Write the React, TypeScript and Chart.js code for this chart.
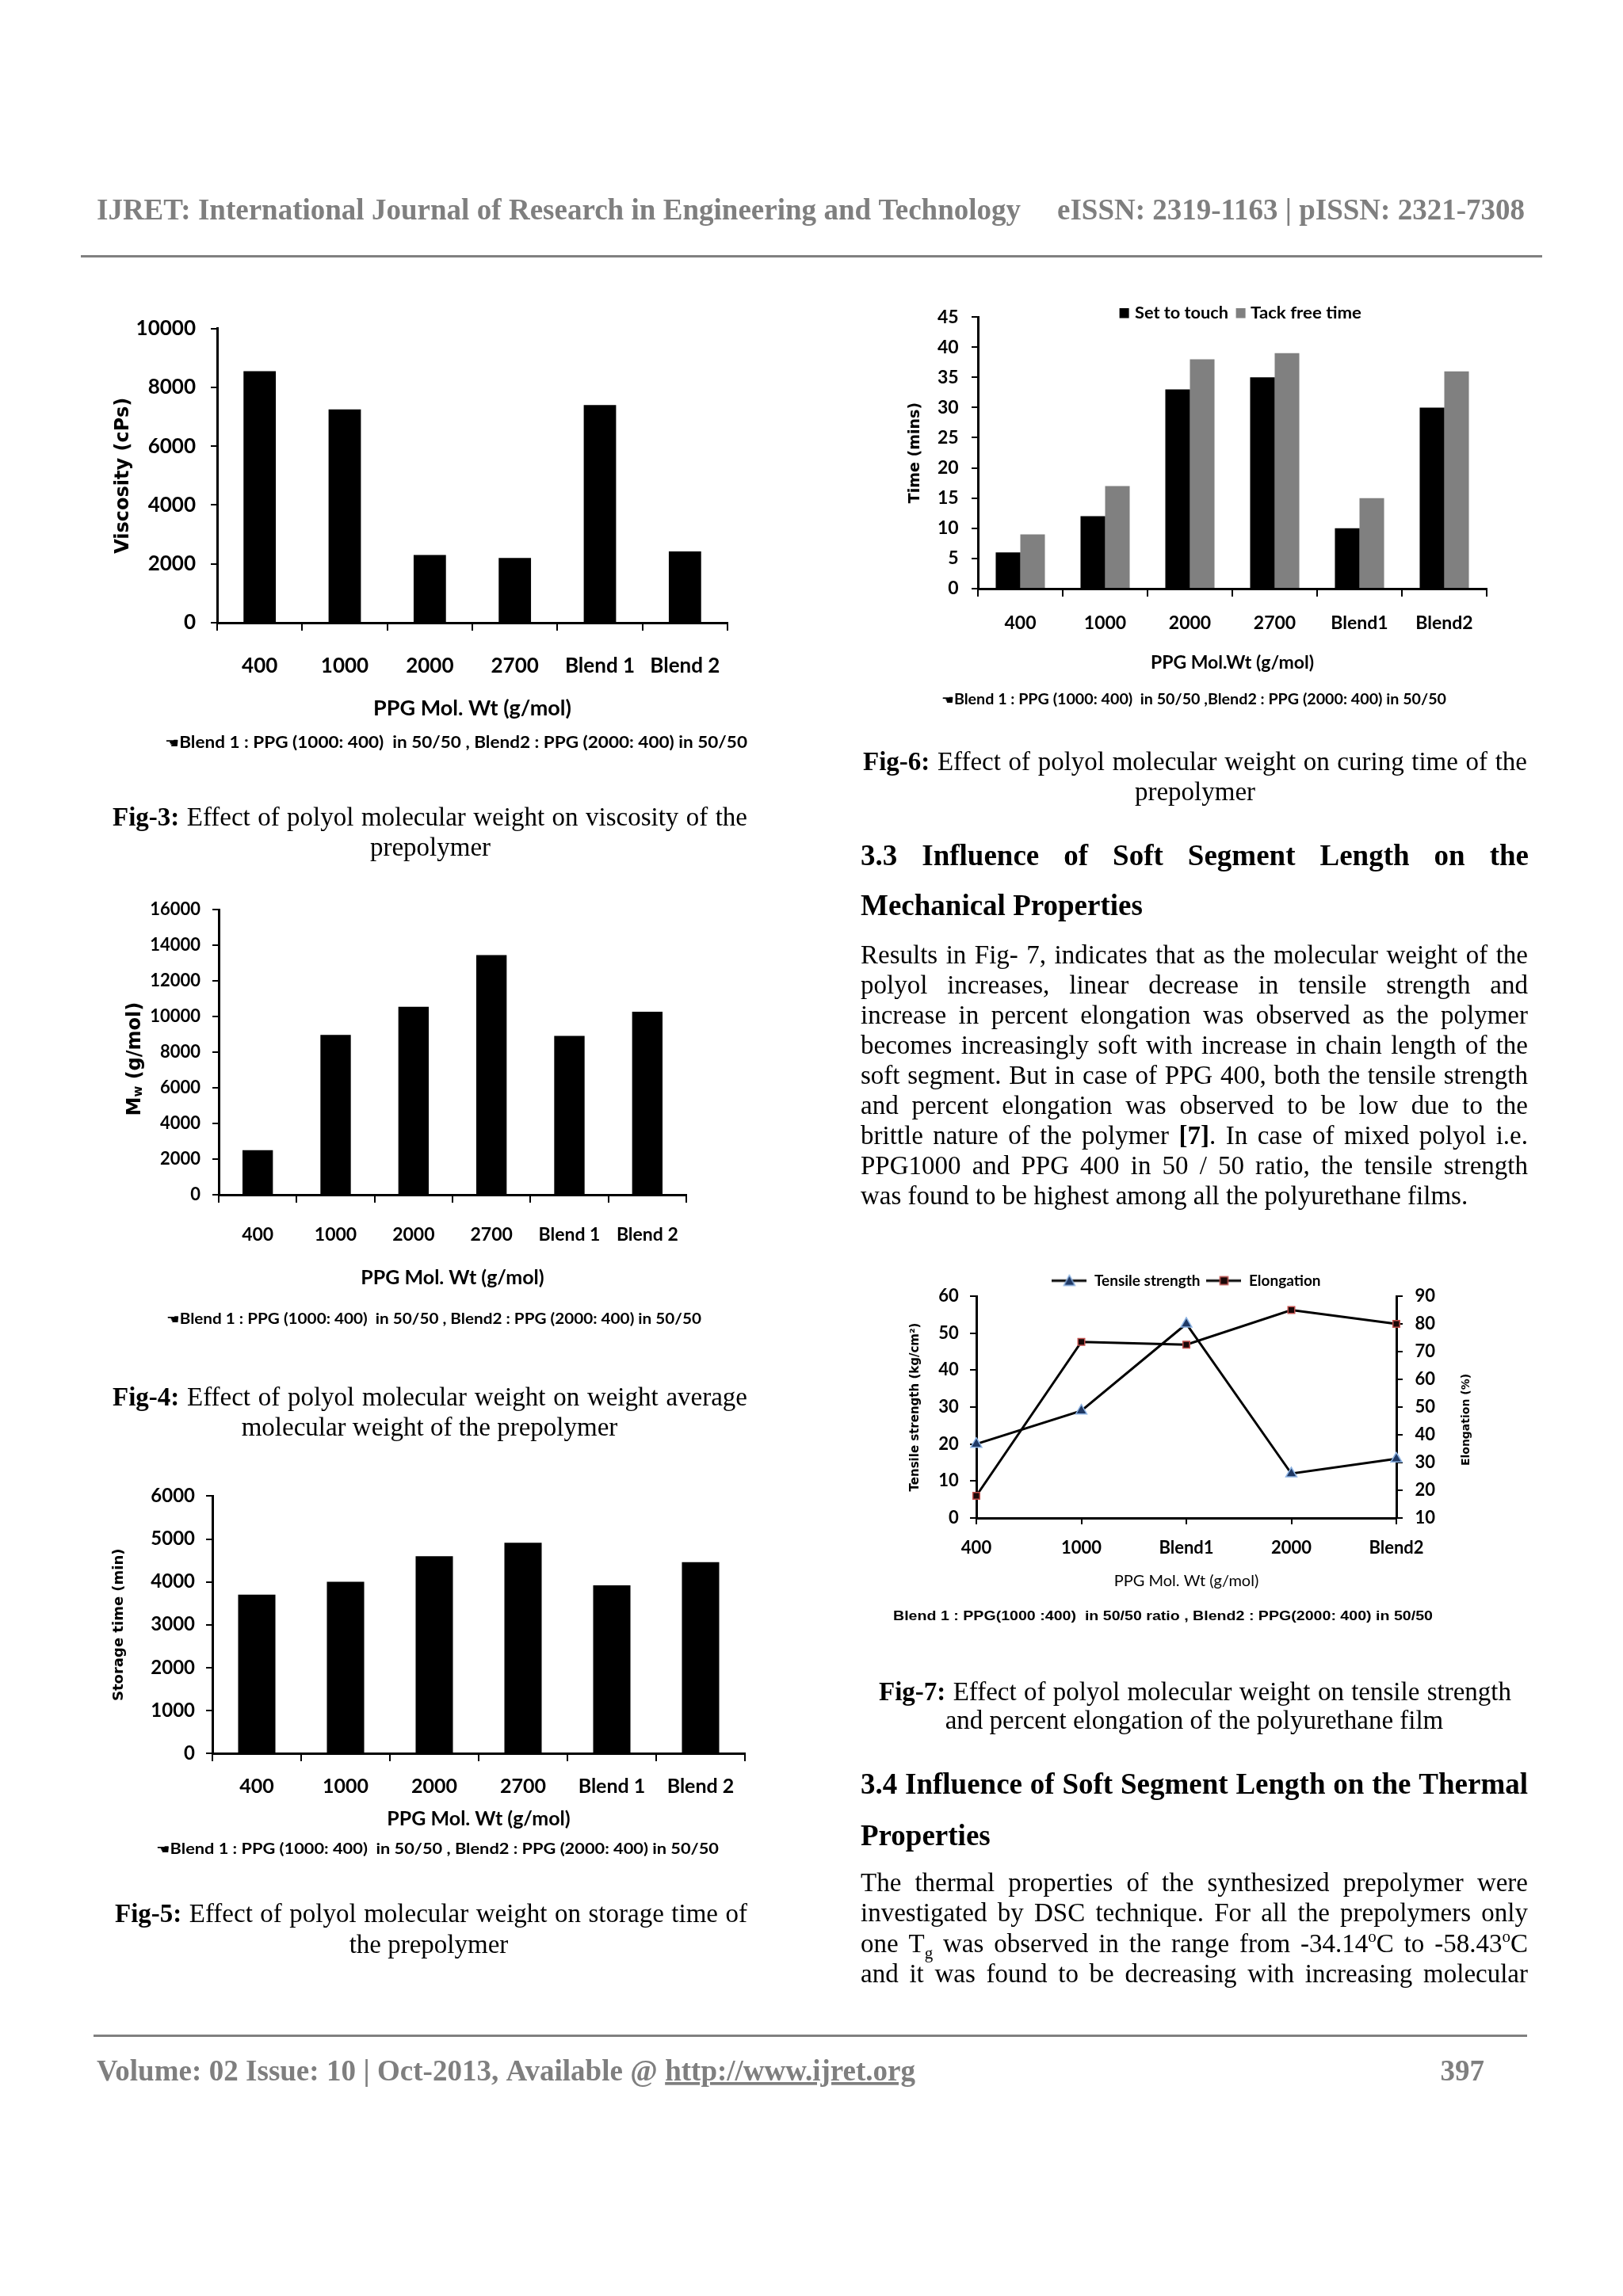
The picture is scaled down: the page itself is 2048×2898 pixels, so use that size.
import React, { useEffect, useRef } from "react";
import { Chart, registerables } from "chart.js";

Chart.register(...registerables);
Chart.defaults.font.family = "Lato";
Chart.defaults.color = "#000";

// ---------------- data ----------------
const barCategories = ["400", "1000", "2000", "2700", "Blend 1", "Blend 2"];
const viscosityValues = [8550, 7250, 2300, 2200, 7400, 2420];
const mwValues = [2500, 8970, 10550, 13450, 8920, 10270];
const storageValues = [3700, 4000, 4600, 4910, 3920, 4460];

const curingCategories = ["400", "1000", "2000", "2700", "Blend1", "Blend2"];
const setToTouchValues = [6, 12, 33, 35, 10, 30];
const tackFreeValues = [9, 17, 38, 39, 15, 36];

const mechCategories = ["400", "1000", "Blend1", "2000", "Blend2"];
const tensileValues = [20, 29, 52.5, 12, 16];
const elongationValues = [18, 73.5, 72.5, 85, 80];

// ---------------- helpers ----------------
type Box = { x: number; y: number; w: number; h: number };
type Plot = { l: number; t: number; r: number; b: number };

const DEJAVU = "'DejaVu Sans', sans-serif";
const SERIF = "'Liberation Serif', 'Times New Roman', serif";

interface BarSpec {
  box: Box;
  plot: Plot;
  labels: string[];
  datasets: any[];
  yMax: number;
  yStep: number;
  yTickFont: number;
  yTickRight: number;
  yTitle?: string;
  yTitleFont?: number;
  yTitleCx?: number;
  xTickFont: number;
  xLabelCy: number;
  xTitle: string;
  xTitleFont: number;
  xTitleCy: number;
}

function barConfig(s: BarSpec): any {
  const xTL = 10;
  const yTL = 8;
  const bottom = s.box.y + s.box.h;
  return {
    type: "bar",
    data: { labels: s.labels, datasets: s.datasets },
    options: {
      responsive: false,
      animation: false,
      devicePixelRatio: 1,
      layout: {
        padding: { left: 0, top: s.plot.t - s.box.y, right: s.box.x + s.box.w - s.plot.r, bottom: 0 },
      },
      plugins: { legend: { display: false }, tooltip: { enabled: false } },
      scales: {
        x: {
          offset: true,
          grid: {
            display: true, offset: true, drawOnChartArea: false, drawTicks: true,
            tickLength: xTL, tickWidth: 2, tickColor: "#000", color: "#000", lineWidth: 2,
          },
          border: { display: true, color: "#000", width: 3 },
          ticks: {
            color: "#000",
            font: { family: "Lato", weight: "bold", size: s.xTickFont },
            padding: s.xLabelCy - s.plot.b - xTL - s.xTickFont * 0.6,
            maxRotation: 0, minRotation: 0, autoSkip: false,
          },
          title: {
            display: true, text: s.xTitle, color: "#000",
            font: { family: "Lato", weight: "bold", size: s.xTitleFont },
            padding: { top: 0, bottom: bottom - s.xTitleCy - s.xTitleFont * 0.6 },
          },
          afterFit: (sc: any) => { sc.height = bottom - s.plot.b; },
        },
        y: {
          min: 0,
          max: s.yMax,
          grid: {
            display: true, drawOnChartArea: false, drawTicks: true,
            tickLength: yTL, tickWidth: 2, tickColor: "#000", color: "#000", lineWidth: 2,
          },
          border: { display: true, color: "#000", width: 3 },
          ticks: {
            stepSize: s.yStep, color: "#000",
            font: { family: "Lato", weight: "bold", size: s.yTickFont },
            padding: s.plot.l - s.yTickRight - yTL,
            callback: (v: any) => String(v),
          },
          title: s.yTitle
            ? {
                display: true, text: s.yTitle, color: "#000",
                font: { family: DEJAVU, weight: "bold", size: s.yTitleFont },
                padding: { top: (s.yTitleCx as number) - s.box.x - (s.yTitleFont as number) * 0.6, bottom: 0 },
              }
            : { display: false },
          afterFit: (sc: any) => { sc.width = s.plot.l - s.box.x; },
        },
      },
    },
  };
}

function makeIcon(kind: "triangle" | "rect") {
  const c = document.createElement("canvas");
  c.width = 44;
  c.height = 18;
  const ctx = c.getContext("2d") as CanvasRenderingContext2D;
  ctx.strokeStyle = "#000";
  ctx.lineWidth = 3;
  ctx.beginPath();
  ctx.moveTo(0, 9);
  ctx.lineTo(44, 9);
  ctx.stroke();
  if (kind === "triangle") {
    ctx.beginPath();
    ctx.moveTo(22, 2);
    ctx.lineTo(29, 15);
    ctx.lineTo(15, 15);
    ctx.closePath();
    ctx.fillStyle = "#1F3864";
    ctx.fill();
    ctx.strokeStyle = "#8DB3E2";
    ctx.lineWidth = 1.5;
    ctx.stroke();
  } else {
    ctx.fillStyle = "#1a0808";
    ctx.fillRect(17, 4, 10, 10);
    ctx.strokeStyle = "#C0504D";
    ctx.lineWidth = 1.5;
    ctx.strokeRect(17, 4, 10, 10);
  }
  return c;
}

const FIG7_BOX: Box = { x: 1100, y: 1580, w: 860, h: 440 };
const FIG7_PLOT: Plot = { l: 1232, t: 1636, r: 1762, b: 1916 };

function mechConfig(): any {
  const box = FIG7_BOX;
  const plot = FIG7_PLOT;
  const legendFont = 19;
  const legendPad = 8;
  const legendH = legendFont + legendPad + 10;
  const bottom = box.y + box.h;
  const y1Right = 1870;
  const icons = [makeIcon("triangle"), makeIcon("rect")];
  const tick = { display: true, drawOnChartArea: false, drawTicks: true, tickLength: 8, tickWidth: 2, tickColor: "#000", color: "#000", lineWidth: 2 };
  return {
    type: "line",
    data: {
      labels: mechCategories,
      datasets: [
        {
          label: "Tensile strength", data: tensileValues, yAxisID: "y",
          borderColor: "#000", backgroundColor: "#1F3864", borderWidth: 3,
          pointStyle: "triangle", pointRadius: 8, pointBackgroundColor: "#1F3864",
          pointBorderColor: "#8DB3E2", pointBorderWidth: 1.5, tension: 0, clip: false,
        },
        {
          label: "Elongation", data: elongationValues, yAxisID: "y1",
          borderColor: "#000", backgroundColor: "#1a0808", borderWidth: 3,
          pointStyle: "rect", pointRadius: 6, pointBackgroundColor: "#1a0808",
          pointBorderColor: "#C0504D", pointBorderWidth: 1.5, tension: 0, clip: false,
        },
      ],
    },
    options: {
      responsive: false,
      animation: false,
      devicePixelRatio: 1,
      layout: { padding: { left: 0, top: plot.t - box.y - legendH, right: box.x + box.w - y1Right, bottom: 0 } },
      plugins: {
        tooltip: { enabled: false },
        legend: {
          display: true, position: "top", align: "center", fullSize: false,
          labels: {
            usePointStyle: true, pointStyleWidth: 44, padding: legendPad, color: "#000",
            font: { family: "Lato", weight: "bold", size: legendFont },
            generateLabels: (chart: any) => {
              const items = (Chart.defaults as any).plugins.legend.labels.generateLabels(chart);
              items.forEach((it: any, i: number) => { it.pointStyle = icons[i]; });
              return items;
            },
          },
        },
      },
      scales: {
        x: {
          offset: false,
          grid: { ...tick, offset: false },
          border: { display: true, color: "#000", width: 3 },
          ticks: {
            color: "#000", font: { family: "Lato", weight: "bold", size: 22 },
            padding: 1954 - plot.b - 8 - 13.2, autoSkip: false, maxRotation: 0, minRotation: 0,
          },
          title: {
            display: true, text: "PPG Mol. Wt (g/mol)", color: "#000",
            font: { family: "Lato", weight: "normal", size: 20 },
            padding: { top: 0, bottom: bottom - 1995.4 - 12 },
          },
          afterFit: (sc: any) => { sc.height = bottom - plot.b; },
        },
        y: {
          position: "left", min: 0, max: 60,
          grid: tick,
          border: { display: true, color: "#000", width: 3 },
          ticks: {
            stepSize: 10, color: "#000", font: { family: "Lato", weight: "bold", size: 22 },
            padding: plot.l - 1209.7 - 8, callback: (v: any) => String(v),
          },
          title: {
            display: true, text: "Tensile strength (kg/cm²)", color: "#000",
            font: { family: DEJAVU, weight: "bold", size: 15 },
            padding: { top: 1155 - box.x - 9, bottom: 0 },
          },
          afterFit: (sc: any) => { sc.width = plot.l - box.x; },
        },
        y1: {
          position: "right", min: 10, max: 90,
          grid: tick,
          border: { display: true, color: "#000", width: 3 },
          ticks: {
            stepSize: 10, color: "#000", font: { family: "Lato", weight: "bold", size: 22 },
            padding: 1785.6 - plot.r - 8, callback: (v: any) => String(v),
          },
          title: { display: false },
          afterFit: (sc: any) => { sc.width = y1Right - plot.r; },
        },
      },
    },
  };
}

// ---------------- chart specs ----------------
const FIG3_BOX: Box = { x: 110, y: 380, w: 850, h: 540 };
const FIG4_BOX: Box = { x: 110, y: 1120, w: 800, h: 520 };
const FIG5_BOX: Box = { x: 110, y: 1860, w: 850, h: 460 };
const FIG6_BOX: Box = { x: 1100, y: 370, w: 850, h: 500 };

const fig3 = () =>
  barConfig({
    box: FIG3_BOX, plot: { l: 274, t: 406, r: 918, b: 786 },
    labels: barCategories,
    datasets: [{ label: "Viscosity", data: viscosityValues, backgroundColor: "#000", categoryPercentage: 0.38, barPercentage: 1 }],
    yMax: 10000, yStep: 2000, yTickFont: 26, yTickRight: 247,
    yTitle: "Viscosity (cPs)", yTitleFont: 24, yTitleCx: 155.6,
    xTickFont: 26, xLabelCy: 841, xTitle: "PPG Mol. Wt (g/mol)", xTitleFont: 27, xTitleCy: 894,
  });

const fig4 = () =>
  barConfig({
    box: FIG4_BOX, plot: { l: 276, t: 1148, r: 866, b: 1508 },
    labels: barCategories,
    datasets: [{ label: "Mw", data: mwValues, backgroundColor: "#000", categoryPercentage: 0.39, barPercentage: 1 }],
    yMax: 16000, yStep: 2000, yTickFont: 22, yTickRight: 253,
    xTickFont: 23, xLabelCy: 1559, xTitle: "PPG Mol. Wt (g/mol)", xTitleFont: 25, xTitleCy: 1612.5,
  });

const fig5 = () =>
  barConfig({
    box: FIG5_BOX, plot: { l: 268, t: 1884, r: 940, b: 2213 },
    labels: barCategories,
    datasets: [{ label: "Storage time", data: storageValues, backgroundColor: "#000", categoryPercentage: 0.42, barPercentage: 1 }],
    yMax: 6000, yStep: 1000, yTickFont: 24, yTickRight: 246,
    yTitle: "Storage time (min)", yTitleFont: 18, yTitleCx: 150,
    xTickFont: 25, xLabelCy: 2254.6, xTitle: "PPG Mol. Wt (g/mol)", xTitleFont: 25, xTitleCy: 2296,
  });

const fig6 = () =>
  barConfig({
    box: FIG6_BOX, plot: { l: 1234, t: 394, r: 1876, b: 743 },
    labels: curingCategories,
    datasets: [
      { label: "Set to touch", data: setToTouchValues, backgroundColor: "#000", categoryPercentage: 0.58, barPercentage: 1 },
      { label: "Tack free time", data: tackFreeValues, backgroundColor: "#808080", categoryPercentage: 0.58, barPercentage: 1 },
    ],
    yMax: 45, yStep: 5, yTickFont: 23, yTickRight: 1209.7,
    yTitle: "Time (mins)", yTitleFont: 19, yTitleCx: 1155,
    xTickFont: 23, xLabelCy: 787, xTitle: "PPG Mol.Wt (g/mol)", xTitleFont: 23, xTitleCy: 837,
  });

function ChartBox({ box, build }: { box: Box; build: () => any }) {
  const ref = useRef<HTMLCanvasElement>(null);
  useEffect(() => {
    const chart = new Chart(ref.current as HTMLCanvasElement, build());
    return () => chart.destroy();
  }, []);
  return (
    <canvas
      ref={ref}
      width={box.w}
      height={box.h}
      style={{ position: "absolute", left: box.x, top: box.y, width: box.w, height: box.h }}
    />
  );
}

// ---------------- text helpers ----------------
type Seg = { t: string; b?: boolean; sub?: boolean; sup?: boolean; u?: boolean };
type Word = string | Seg[];

let _mctx: CanvasRenderingContext2D | null = null;
function mw(text: string, font: string) {
  if (!_mctx) _mctx = document.createElement("canvas").getContext("2d");
  (_mctx as CanvasRenderingContext2D).font = font;
  return (_mctx as CanvasRenderingContext2D).measureText(text).width;
}

function words(s: string): Word[] {
  return s.split(" ").filter((w) => w.length > 0);
}

function Line(props: {
  x: number; y: number; width?: number; size: number; bold?: boolean;
  ws: Word[]; justify?: boolean; fill?: string; anchor?: "start" | "middle" | "end";
}) {
  const { x, y, width, size, bold = false, ws, justify = false, fill = "#000", anchor = "start" } = props;
  const segsOf = (w: Word): Seg[] => (typeof w === "string" ? [{ t: w }] : w);
  const small = Math.round(size * 0.65);
  const segFont = (s: Seg) => `${s.b || bold ? "bold " : ""}${s.sub || s.sup ? small : size}px ${SERIF}`;
  const wordW = ws.map((w) => segsOf(w).reduce((a, s) => a + mw(s.t, segFont(s)), 0));
  const total = wordW.reduce((a, b) => a + b, 0);
  const space = mw(" ", `${bold ? "bold " : ""}${size}px ${SERIF}`);
  const gap = justify && width && ws.length > 1 ? (width - total) / (ws.length - 1) : space;
  const full = total + gap * (ws.length - 1);
  let cx = anchor === "middle" ? x - full / 2 : anchor === "end" ? x - full : x;
  const spans: any[] = [];
  ws.forEach((w, i) => {
    segsOf(w).forEach((s, j) => {
      spans.push(
        <tspan
          key={`${i}-${j}`}
          x={cx}
          y={y + (s.sub ? size * 0.25 : s.sup ? -size * 0.38 : 0)}
          fontWeight={s.b || bold ? "bold" : "normal"}
          fontSize={s.sub || s.sup ? small : size}
          style={s.u ? { textDecoration: "underline" } : undefined}
        >
          {s.t}
        </tspan>
      );
      cx += mw(s.t, segFont(s));
    });
    cx += gap;
  });
  return (
    <text fontFamily={SERIF} fill={fill} fontSize={size}>
      {spans}
    </text>
  );
}

function cap(label: string, rest: string): Word[] {
  return [[{ t: label, b: true }], ...words(rest)];
}

function Footnote({ x, y, w, size, text, family = "Lato", bullet = true }: { x: number; y: number; w: number; size: number; text: string; family?: string; bullet?: boolean }) {
  return (
    <text x={x} y={y} fontFamily={family} fontWeight="bold" fontSize={size} fill="#000" textLength={w} lengthAdjust="spacingAndGlyphs" xmlSpace="preserve">
      {bullet ? <tspan fontFamily={DEJAVU} fontSize={size * 0.9}>☚</tspan> : null}
      {text}
    </text>
  );
}

function PageText() {
  const para33 = [
    "Results in Fig- 7, indicates that as the molecular weight of the",
    "polyol increases, linear decrease in tensile strength and",
    "increase in percent elongation was observed as the polymer",
    "becomes increasingly soft with increase in chain length of the",
    "soft segment. But in case of PPG 400, both the tensile strength",
    "and percent elongation was observed to be low due to the",
    "",
    "PPG1000 and PPG 400 in 50 / 50 ratio, the tensile strength",
  ];
  const para33y = [1216, 1254, 1292, 1330, 1368, 1406, 1444, 1482];
  const bold7: Word[] = [...words("brittle nature of the polymer"), [{ t: "[7]", b: true }, { t: "." }], ...words("In case of mixed polyol i.e.")];
  const para34: Word[][] = [
    words("The thermal properties of the synthesized prepolymer were"),
    words("investigated by DSC technique. For all the prepolymers only"),
    [
      "one",
      [{ t: "T" }, { t: "g", sub: true }],
      ...words("was observed in the range from"),
      [{ t: "-34.14" }, { t: "o", sup: true }, { t: "C" }],
      "to",
      [{ t: "-58.43" }, { t: "o", sup: true }, { t: "C" }],
    ],
    words("and it was found to be decreasing with increasing molecular"),
  ];
  const para34y = [2387, 2425, 2464, 2502];
  const gray = "#7f7f7f";
  return (
    <svg width={2048} height={2898} style={{ position: "absolute", left: 0, top: 0, pointerEvents: "none" }}>
      {/* header */}
      <Line x={122} y={277} width={1166} size={37} bold justify fill={gray} ws={words("IJRET: International Journal of Research in Engineering and Technology")} />
      <Line x={1334} y={277} width={590} size={37} bold justify fill={gray} ws={words("eISSN: 2319-1163 | pISSN: 2321-7308")} />
      <rect x={102} y={322} width={1844} height={3} fill="#808080" />

      {/* footer */}
      <rect x={118} y={2568} width={1809} height={3} fill="#808080" />
      <Line
        x={122} y={2626} width={1033} size={37} bold justify fill={gray}
        ws={[...words("Volume: 02 Issue: 10 | Oct-2013, Available @"), [{ t: "http://www.ijret.org", u: true }]]}
      />
      <Line x={1873} y={2626} size={37} bold fill={gray} anchor="end" ws={["397"]} />

      {/* left captions */}
      <Line x={142} y={1042} width={801} size={33} justify ws={cap("Fig-3:", "Effect of polyol molecular weight on viscosity of the")} />
      <Line x={543} y={1080} size={33} anchor="middle" ws={["prepolymer"]} />
      <Line x={142} y={1774} width={801} size={33} justify ws={cap("Fig-4:", "Effect of polyol molecular weight on weight average")} />
      <Line x={542} y={1812} size={33} anchor="middle" ws={words("molecular weight of the prepolymer")} />
      <Line x={145} y={2426} width={798} size={33} justify ws={cap("Fig-5:", "Effect of polyol molecular weight on storage time of")} />
      <Line x={541} y={2465} size={33} anchor="middle" ws={words("the prepolymer")} />

      {/* right column */}
      <Line x={1089} y={972} width={838} size={33} justify ws={cap("Fig-6:", "Effect of polyol molecular weight on curing time of the")} />
      <Line x={1508} y={1010} size={33} anchor="middle" ws={["prepolymer"]} />

      <Line x={1086} y={1092} width={843} size={37} bold justify ws={words("3.3 Influence of Soft Segment Length on the")} />
      <Line x={1086} y={1155} size={37} bold ws={words("Mechanical Properties")} />
      {para33.map((l, i) =>
        i === 6 ? (
          <Line key={i} x={1086} y={para33y[i]} width={842} size={33} justify ws={bold7} />
        ) : (
          <Line key={i} x={1086} y={para33y[i]} width={842} size={33} justify ws={words(l)} />
        )
      )}
      <Line x={1086} y={1520} size={33} ws={words("was found to be highest among all the polyurethane films.")} />

      <Line x={1109} y={2146} width={798} size={33} justify ws={cap("Fig-7:", "Effect of polyol molecular weight on tensile strength")} />
      <Line x={1507} y={2182} size={33} anchor="middle" ws={words("and percent elongation of the polyurethane film")} />

      <Line x={1086} y={2264} width={842} size={37} bold justify ws={words("3.4 Influence of Soft Segment Length on the Thermal")} />
      <Line x={1086} y={2329} size={37} bold ws={["Properties"]} />
      {para34.map((ws, i) => (
        <Line key={i} x={1086} y={para34y[i]} width={842} size={33} justify ws={ws} />
      ))}

      {/* footnotes */}
      <Footnote x={208} y={944} w={735} size={20} text="Blend 1 : PPG (1000: 400)  in 50/50 , Blend2 : PPG (2000: 400) in 50/50" />
      <Footnote x={210} y={1671} w={675} size={19} text="Blend 1 : PPG (1000: 400)  in 50/50 , Blend2 : PPG (2000: 400) in 50/50" />
      <Footnote x={197} y={2340} w={710} size={19} text="Blend 1 : PPG (1000: 400)  in 50/50 , Blend2 : PPG (2000: 400) in 50/50" />
      <Footnote x={1188} y={889} w={637} size={18} text="Blend 1 : PPG (1000: 400)  in 50/50 ,Blend2 : PPG (2000: 400) in 50/50" />
      <Footnote
        x={1127} y={2045} w={681} size={17} bullet={false}
        family="'Liberation Sans Narrow', 'Liberation Sans', Arial, sans-serif"
        text="Blend 1 : PPG(1000 :400)  in 50/50 ratio , Blend2 : PPG(2000: 400) in 50/50"
      />

      {/* Fig-4 y title (with subscript) */}
      <text transform="translate(169.4,1336.6) rotate(-90)" textAnchor="middle" dominantBaseline="central" fontFamily={DEJAVU} fontWeight="bold" fontSize={24} fill="#000">
        M<tspan fontSize={15} dy={5}>w</tspan>
        <tspan dy={-5}> (g/mol)</tspan>
      </text>

      {/* Fig-7 right axis title */}
      <text transform="translate(1848.7,1792) rotate(-90)" textAnchor="middle" dominantBaseline="central" fontFamily={DEJAVU} fontWeight="bold" fontSize={14} fill="#000">
        Elongation (%)
      </text>

      {/* Fig-6 legend */}
      <rect x={1412.6} y={389} width={12} height={12.5} fill="#000" />
      <text x={1432} y={402} fontFamily="Lato" fontWeight="bold" fontSize={20} textLength={118} lengthAdjust="spacingAndGlyphs" fill="#000">Set to touch</text>
      <rect x={1559.6} y={389} width={12} height={12.5} fill="#808080" />
      <text x={1578} y={402} fontFamily="Lato" fontWeight="bold" fontSize={20} textLength={140} lengthAdjust="spacingAndGlyphs" fill="#000">Tack free time</text>
    </svg>
  );
}

export default function App() {
  return (
    <div style={{ position: "absolute", left: 0, top: 0, width: 2048, height: 2898, background: "#fff" }}>
      <ChartBox box={FIG3_BOX} build={fig3} />
      <ChartBox box={FIG4_BOX} build={fig4} />
      <ChartBox box={FIG5_BOX} build={fig5} />
      <ChartBox box={FIG6_BOX} build={fig6} />
      <ChartBox box={FIG7_BOX} build={mechConfig} />
      <PageText />
    </div>
  );
}
